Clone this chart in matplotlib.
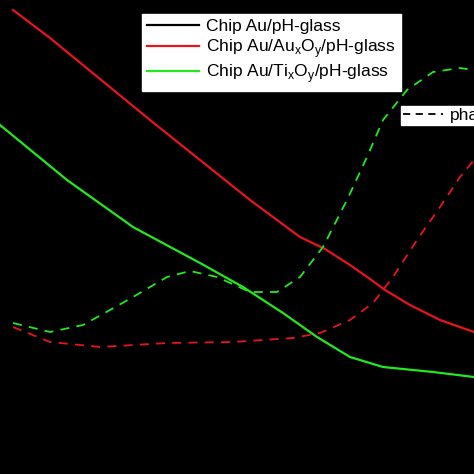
import matplotlib
matplotlib.use("Agg")
import matplotlib.pyplot as plt
from matplotlib.lines import Line2D

plt.rcParams['font.family'] = ['Liberation Sans', 'DejaVu Sans']

# x positions (arbitrary units across plot), y values (arbitrary units, measured downward)
red_x = [13, 50, 100, 150, 200, 250, 300, 325, 350, 370, 385, 410, 440, 474]
red_y = [10, 38, 79, 120, 160, 200, 237, 249, 265, 279, 290, 305, 320, 332]
green_x = [0, 67, 133, 200, 243, 283, 317, 350, 383, 433, 474]
green_y = [125, 180, 227, 263, 287, 313, 337, 357, 367, 372, 377]
gph_x = [13, 50, 83, 110, 133, 167, 190, 217, 250, 277, 300, 323, 347, 367, 383, 407, 433, 460, 474]
gph_y = [323, 332, 325, 310, 297, 277, 271, 277, 292, 292, 277, 247, 200, 157, 120, 90, 72, 68, 70]
rph_x = [13, 50, 100, 167, 233, 293, 320, 350, 373, 393, 417, 440, 460, 474]
rph_y = [327, 342, 347, 343, 342, 338, 333, 320, 303, 277, 240, 207, 177, 160]

RED = '#e8141c'
GREEN = '#22e81c'

fig = plt.figure(figsize=(4.74, 4.74), dpi=100, facecolor='black')
ax = fig.add_axes([0, 0, 1, 1])
ax.set_facecolor('black')
ax.set_xlim(0, 474)
ax.set_ylim(474, 0)
ax.axis('off')

ax.plot(red_x, red_y, color=RED, lw=1.6)
ax.plot(green_x, green_y, color=GREEN, lw=1.6)
ax.plot(gph_x, gph_y, color=GREEN, lw=1.3, ls=(0, (5, 4)))
ax.plot(rph_x, rph_y, color=RED, lw=1.3, ls=(0, (5, 4)))

handles = [Line2D([], [], color='black', lw=1.6),
           Line2D([], [], color=RED, lw=1.6),
           Line2D([], [], color=GREEN, lw=1.6)]
labels = ['Chip Au/pH-glass', 'Chip Au/Au$_{\\mathregular{x}}$O$_{\\mathregular{y}}$/pH-glass',
          'Chip Au/Ti$_{\\mathregular{x}}$O$_{\\mathregular{y}}$/pH-glass']
leg = ax.legend(handles, labels, loc='upper left', bbox_to_anchor=(142/474, 1 - 14/474),
                fontsize=12.5, frameon=True, fancybox=False, framealpha=1,
                edgecolor='white', facecolor='white', borderaxespad=0,
                handlelength=3.0, labelspacing=0.15, borderpad=0.3, handletextpad=0.4)
ax.add_artist(leg)
leg2 = ax.legend([Line2D([], [], color='black', lw=1.3, ls=(0, (4, 3)))], ['phase'],
                 loc='upper left', bbox_to_anchor=(401/474, 1 - 106/474),
                 fontsize=12.5, frameon=True, fancybox=False, framealpha=1,
                 edgecolor='white', facecolor='white', borderaxespad=0,
                 handlelength=2.3, borderpad=0.1, handletextpad=0.4)

fig.savefig('out.png', dpi=100, facecolor='black')
